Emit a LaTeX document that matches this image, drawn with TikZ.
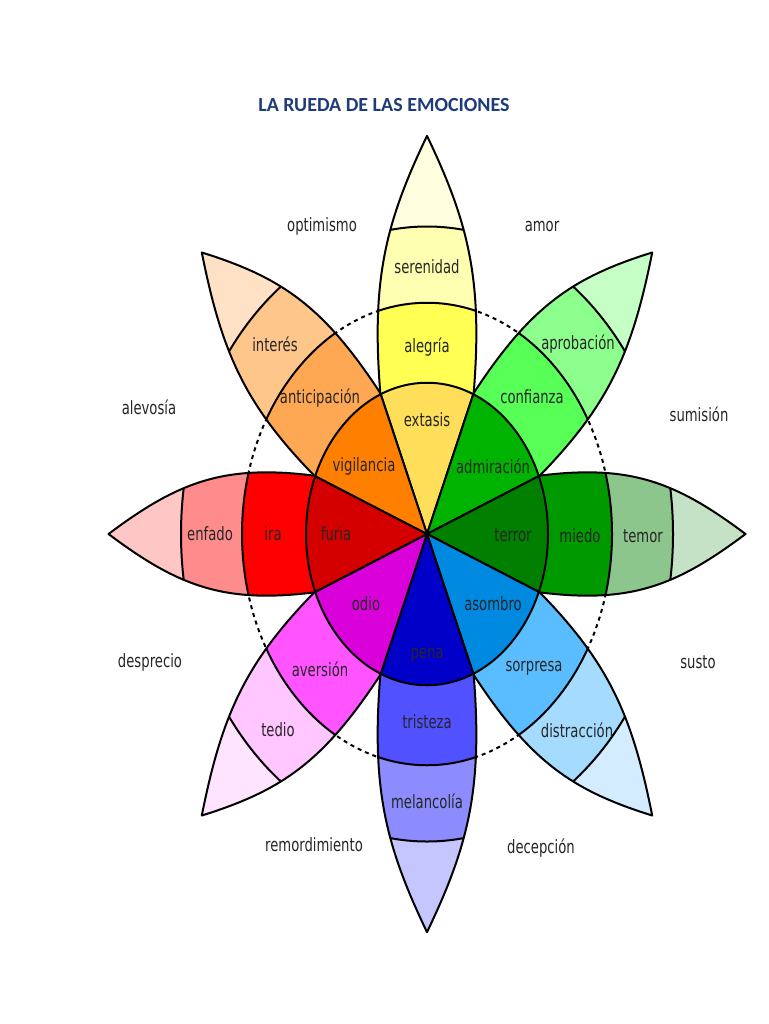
\documentclass[tikz,border=0pt]{standalone}
\usepackage{fontspec}
\setmainfont{DejaVu Sans}
\newfontfamily\titlefont{Carlito}
\definecolor{titleblue}{HTML}{1F3B7B}
% yellow
\definecolor{ya}{HTML}{FFDE59}\definecolor{yb}{HTML}{FFFF54}\definecolor{yc}{HTML}{FFFFB1}\definecolor{yd}{HTML}{FFFFE0}
% light green
\definecolor{ga}{HTML}{00B300}\definecolor{gb}{HTML}{57FF57}\definecolor{gc}{HTML}{8CFF8C}\definecolor{gd}{HTML}{C6FFC6}
% dark green
\definecolor{da}{HTML}{007F00}\definecolor{db}{HTML}{009900}\definecolor{dc}{HTML}{8CC68C}\definecolor{dd}{HTML}{C6E2C6}
% light blue
\definecolor{la}{HTML}{0089E0}\definecolor{lb}{HTML}{59BDFF}\definecolor{lc}{HTML}{A5DBFF}\definecolor{ld}{HTML}{D3ECFF}
% blue
\definecolor{ba}{HTML}{0000C8}\definecolor{bb}{HTML}{5151FF}\definecolor{bc}{HTML}{8C8CFF}\definecolor{bd}{HTML}{C6C6FF}
% magenta
\definecolor{ma}{HTML}{DA00DA}\definecolor{mb}{HTML}{FF54FF}\definecolor{mc}{HTML}{FFC6FF}\definecolor{md}{HTML}{FFE4FF}
% red
\definecolor{ra}{HTML}{D40000}\definecolor{rb}{HTML}{FF0000}\definecolor{rc}{HTML}{FF8C8C}\definecolor{rd}{HTML}{FFC6C6}
% orange
\definecolor{oa}{HTML}{FF7F00}\definecolor{ob}{HTML}{FFA854}\definecolor{oc}{HTML}{FFC68C}\definecolor{od}{HTML}{FFE2C6}

\newcommand\petalpath{(0,0) -- (112.7,-46.7)
  .. controls (202.7,-55.7) and (248.5,-42) .. (318.5,0)
  .. controls (248.5,42) and (202.7,55.7) .. (112.7,46.7)
  -- cycle}

\newcommand\drawpetal[5]{%
  \begin{scope}[rotate=#1]
    \begin{scope}
      \clip \petalpath;
      \fill[#5] (0,0) circle (330);
      \fill[#4] (0,0) circle (246);
      \fill[#3] (0,0) circle (185);
      \fill[#2] (0,0) circle (121);
      \draw[wl] (0,0) circle (121) (0,0) circle (185) (0,0) circle (246);
    \end{scope}
    \draw[wl] \petalpath;
  \end{scope}}

\begin{document}
\begin{tikzpicture}[x=0.75pt,y=0.75pt,
  wl/.style={line width=1.5pt, line join=round, draw=black},
  lab/.style={font=\fontsize{11}{13}\selectfont, text=black!85, xscale=0.9, yscale=1.25, inner sep=0pt},
  dashcircle/.style={line width=1.5pt, dash pattern=on 3pt off 3pt}]
\useasboundingbox (0,0) rectangle (768,-1024);
\fill[white] (0,0) rectangle (768,-1024);

\node[font=\titlefont\bfseries\fontsize{15}{18}\selectfont, text=titleblue] (title) at (384,-105) {LA RUEDA DE LAS EMOCIONES};

\begin{scope}[shift={(427,-534)}, yscale=1.25]
  \draw[dashcircle] (0,0) circle (185);
  \drawpetal{90}{ya}{yb}{yc}{yd}
  \drawpetal{45}{ga}{gb}{gc}{gd}
  \drawpetal{0}{da}{db}{dc}{dd}
  \drawpetal{-45}{la}{lb}{lc}{ld}
  \drawpetal{-90}{ba}{bb}{bc}{bd}
  \drawpetal{-135}{ma}{mb}{mc}{md}
  \drawpetal{180}{ra}{rb}{rc}{rd}
  \drawpetal{135}{oa}{ob}{oc}{od}
\end{scope}

% inner labels
\node[lab] (serenidad) at (427,-267) {serenidad};
\node[lab] (alegria) at (427,-347) {alegría};
\node[lab] (extasis) at (427,-420) {extasis};
\node[lab] (aprobacion) at (578,-344) {aprobación};
\node[lab] (confianza) at (532,-397) {confianza};
\node[lab] (admiracion) at (493,-466) {admiración};
\node[lab] (terror) at (513,-535) {terror};
\node[lab] (miedo) at (580,-536) {miedo};
\node[lab] (temor) at (643,-536) {temor};
\node[lab] (asombro) at (493,-604) {asombro};
\node[lab] (sorpresa) at (534,-668) {sorpresa};
\node[lab] (distraccion) at (577,-730) {distracción};
\node[lab] (pena) at (427,-655) {pena};
\node[lab] (tristeza) at (427,-722) {tristeza};
\node[lab] (melancolia) at (427,-801) {melancolía};
\node[lab] (odio) at (366,-604) {odio};
\node[lab] (aversion) at (320,-669) {aversión};
\node[lab] (tedio) at (278,-730) {tedio};
\node[lab] (furia) at (336,-534) {furia};
\node[lab] (ira) at (273,-534) {ira};
\node[lab] (enfado) at (210,-534) {enfado};
\node[lab] (vigilancia) at (364,-466) {vigilancia};
\node[lab] (anticipacion) at (320,-398) {anticipación};
\node[lab] (interes) at (275,-344) {interés};

% outer labels
\node[lab] (optimismo) at (322,-226) {optimismo};
\node[lab] (amor) at (542,-226) {amor};
\node[lab] (alevosia) at (149,-407) {alevosía};
\node[lab] (sumision) at (699,-414) {sumisión};
\node[lab] (desprecio) at (150,-662) {desprecio};
\node[lab] (susto) at (698,-662) {susto};
\node[lab] (remordimiento) at (314,-845) {remordimiento};
\node[lab] (decepcion) at (541,-848) {decepción};
\end{tikzpicture}
\end{document}
